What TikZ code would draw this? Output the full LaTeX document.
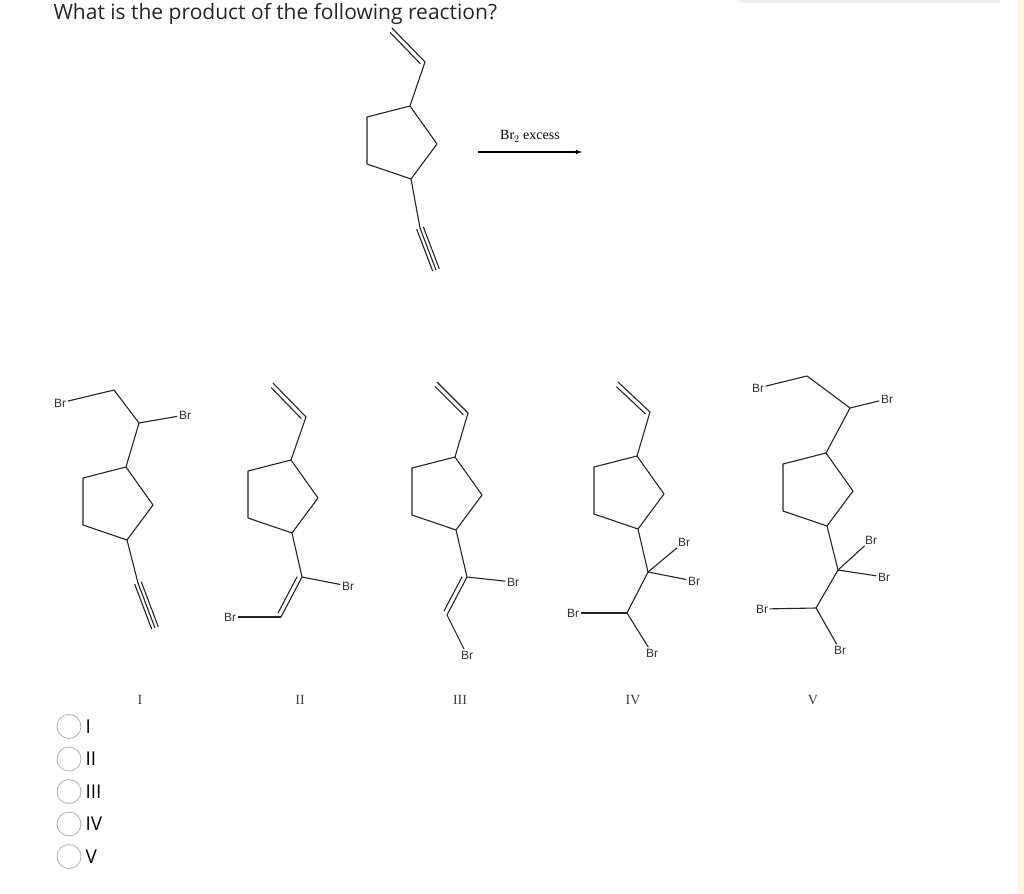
\documentclass[tikz,border=0pt]{standalone}
\usepackage{fontspec}
\setmainfont{Liberation Serif}
\newfontfamily\brfont{Liberation Sans}
\newfontfamily\uifont{Open Sans}
\usetikzlibrary{calc}
% ring of five atoms, named <name>1..<name>5, top atom at (x,y)
\newcommand{\pentring}[3]{
  \coordinate (#11) at (#2,#3);
  \coordinate (#12) at ($(#2,#3)+(27,38)$);
  \coordinate (#13) at ($(#2,#3)+(1,73)$);
  \coordinate (#14) at ($(#2,#3)+(-43,58)$);
  \coordinate (#15) at ($(#2,#3)+(-43,11)$);
  \draw[bond] (#11) -- (#12) -- (#13) -- (#14) -- (#15) -- cycle;
}
\newcommand{\dbond}[2]{
  \draw[bond] (#1) -- (#2);
  \draw[bond,shorten <=2pt,shorten >=2pt] ($(#1)!4.5pt!90:(#2)$) -- ($(#2)!4.5pt!-90:(#1)$);
}
\newcommand{\tbond}[2]{
  \draw[bond] (#1) -- (#2);
  \draw[bond] ($(#1)!3.5pt!90:(#2)$) -- ($(#2)!3.5pt!-90:(#1)$);
  \draw[bond] ($(#1)!3.5pt!-90:(#2)$) -- ($(#2)!3.5pt!90:(#1)$);
}
\begin{document}
\begin{tikzpicture}[x=1pt,y=-1pt]
  \tikzset{
    bond/.style={draw=black!85,line width=1.1pt,line join=round},
    br node/.style={font=\brfont\fontsize{12}{12}\selectfont,inner sep=1.5pt,text=black!80},
    num node/.style={font=\fontsize{14}{14}\selectfont,text=black!75},
    opt node/.style={font=\uifont\fontsize{19}{19}\selectfont,anchor=west},
    opt box/.style={circle,draw=black!30,line width=0.8pt,minimum size=24pt,inner sep=0}
  }
  \useasboundingbox (0,0) rectangle (1024,893);
  \fill[white] (0,0) rectangle (1024,893);
  \fill[yellow!50!orange!12] (1018,0) rectangle (1024,893);
  \fill[black!6] (740,0) rectangle (1000,3);

  \node[font=\uifont\fontsize{21}{21}\selectfont,anchor=west,text=black!85] (question) at (50,14) {What is the product of the following reaction?};

  % starting material
  \pentring{s}{410}{106}
  \coordinate (sv1) at (425,62);
  \coordinate (sv2) at (392,28);
  \coordinate (sa1) at (420,228);
  \coordinate (sa2) at (436,270);
  \draw[bond] (s1) -- (sv1);
  \dbond{sv1}{sv2}
  \draw[bond] (s3) -- (sa1);
  \tbond{sa1}{sa2}
  \coordinate (arrA) at (478,152);
  \coordinate (arrB) at (582,152);
  \draw[line width=1.1pt,-latex] (arrA) -- (arrB) node[midway,above=6pt,font=\fontsize{14}{14}\selectfont] (reagent) {Br$_2$ excess};

  % I
  \pentring{a}{126}{467}
  \node[br node] (aBr1) at (60,403) {Br};
  \coordinate (ac1) at (114,390);
  \coordinate (ac2) at (139,423);
  \node[br node] (aBr2) at (185,415) {Br};
  \coordinate (aa1) at (138,583);
  \coordinate (aa2) at (155,628);
  \path[bond] (aBr1) edge (ac1) (ac1) edge (ac2) (ac2) edge (aBr2) (ac2) edge (a1) (a3) edge (aa1);
  \tbond{aa1}{aa2}

  % II
  \pentring{b}{291}{460}
  \coordinate (bv1) at (306,417);
  \coordinate (bv2) at (273,383);
  \coordinate (bc1) at (302,577);
  \coordinate (bc2) at (281,617);
  \node[br node] (bBr1) at (348,586) {Br};
  \node[br node] (bBr2) at (230,617) {Br};
  \draw[bond] (b1) -- (bv1);
  \dbond{bv1}{bv2}
  \path[bond] (b3) edge (bc1) (bc1) edge (bBr1) (bc2) edge (bBr2);
  \dbond{bc2}{bc1}

  % III
  \pentring{c}{455}{457}
  \coordinate (cv1) at (468,413);
  \coordinate (cv2) at (437,382);
  \coordinate (cc1) at (467,577);
  \coordinate (cc2) at (447,615);
  \node[br node] (cBr1) at (513,582) {Br};
  \node[br node] (cBr2) at (467,655) {Br};
  \draw[bond] (c1) -- (cv1);
  \dbond{cv1}{cv2}
  \path[bond] (c3) edge (cc1) (cc1) edge (cBr1) (cc2) edge (cBr2);
  \dbond{cc2}{cc1}

  % IV
  \pentring{d}{637}{456}
  \coordinate (dv1) at (650,412);
  \coordinate (dv2) at (618,382);
  \coordinate (dc1) at (648,572);
  \coordinate (dc2) at (627,613);
  \node[br node] (dBr1) at (684,542) {Br};
  \node[br node] (dBr2) at (694,581) {Br};
  \node[br node] (dBr3) at (573,613) {Br};
  \node[br node] (dBr4) at (652,653) {Br};
  \draw[bond] (d1) -- (dv1);
  \dbond{dv1}{dv2}
  \path[bond] (d3) edge (dc1) (dc1) edge (dBr1) (dc1) edge (dBr2) (dc1) edge (dc2)
    (dc2) edge (dBr3) (dc2) edge (dBr4);

  % V
  \pentring{e}{826}{453}
  \node[br node] (eBr1) at (758,388) {Br};
  \coordinate (ec1) at (807,376);
  \coordinate (ec2) at (850,408);
  \node[br node] (eBr2) at (887,399) {Br};
  \coordinate (ec3) at (838,570);
  \coordinate (ec4) at (816,608);
  \node[br node] (eBr3) at (871,540) {Br};
  \node[br node] (eBr4) at (884,577) {Br};
  \node[br node] (eBr5) at (762,609) {Br};
  \node[br node] (eBr6) at (840,650) {Br};
  \path[bond] (eBr1) edge (ec1) (ec1) edge (ec2) (ec2) edge (eBr2) (ec2) edge (e1)
    (e3) edge (ec3) (ec3) edge (eBr3) (ec3) edge (eBr4) (ec3) edge (ec4)
    (ec4) edge (eBr5) (ec4) edge (eBr6);

  % numbering
  \foreach \lab/\xx in {I/140,II/300,III/460,IV/633,V/813}
    \node[num node] (num\lab) at (\xx,700) {\lab};

  % answer options
  \foreach \lab [count=\i] in {I,II,III,IV,V} {
    \node[opt box] (box\i) at (69,694+32.5*\i) {};
    \node[opt node] (opt\i) at (82,694+32.5*\i) {\lab};
  }
\end{tikzpicture}
\end{document}
